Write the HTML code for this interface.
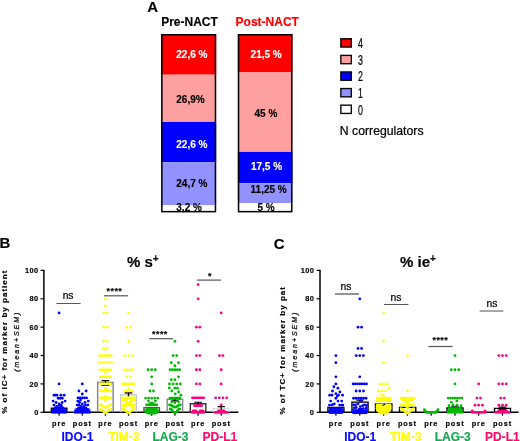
<!DOCTYPE html>
<html lang="en"><head><meta charset="utf-8"><title>Figure</title>
<style>
html,body{margin:0;padding:0;background:#fff;}
body{width:520px;height:441px;overflow:hidden;}
svg{display:block;font-family:"Liberation Sans", Arial, Helvetica, sans-serif;}
</style></head><body>
<svg width="520" height="441" viewBox="0 0 520 441">
<rect width="520" height="441" fill="#fff"/>
<text x="147.3" y="11.6" font-size="15" font-weight="bold" stroke="#000" stroke-width="0.16">A</text>
<text x="161.2" y="26.1" font-size="12" font-weight="bold" stroke="#000" stroke-width="0.16">Pre-NACT</text>
<text x="235.6" y="26.1" font-size="12" font-weight="bold" fill="#ff0000" stroke="#ff0000" stroke-width="0.16">Post-NACT</text>
<rect x="161.1" y="34" width="55.099999999999994" height="40.7" fill="#ff0000"/>
<rect x="161.1" y="74.7" width="55.099999999999994" height="47.2" fill="#ffa0a0"/>
<rect x="161.1" y="121.9" width="55.099999999999994" height="40.29999999999998" fill="#0000ff"/>
<rect x="161.1" y="162.2" width="55.099999999999994" height="43.10000000000002" fill="#9191ff"/>
<rect x="161.1" y="205.3" width="55.099999999999994" height="7.099999999999994" fill="#ffffff"/>
<text x="176.3" y="58" font-size="10" font-weight="bold" fill="#fff" stroke="#fff" stroke-width="0.16">22,6 %</text>
<text x="176.3" y="102.8" font-size="10" font-weight="bold" fill="#000" stroke="#000" stroke-width="0.16">26,9%</text>
<text x="176.3" y="147.8" font-size="10" font-weight="bold" fill="#fff" stroke="#fff" stroke-width="0.16">22,6 %</text>
<text x="176.3" y="187.1" font-size="10" font-weight="bold" fill="#000" stroke="#000" stroke-width="0.16">24,7 %</text>
<text x="176.3" y="210.6" font-size="10" font-weight="bold" fill="#000" stroke="#000" stroke-width="0.16">3,2 %</text>
<rect x="161.85" y="34.75" width="53.599999999999994" height="176.9" fill="none" stroke="#000" stroke-width="1.5"/>
<rect x="237.8" y="34" width="54.69999999999999" height="38.400000000000006" fill="#ff0000"/>
<rect x="237.8" y="72.4" width="54.69999999999999" height="79.5" fill="#ffa0a0"/>
<rect x="237.8" y="151.9" width="54.69999999999999" height="31.299999999999983" fill="#0000ff"/>
<rect x="237.8" y="183.2" width="54.69999999999999" height="19.900000000000006" fill="#9191ff"/>
<rect x="237.8" y="203.1" width="54.69999999999999" height="9.300000000000011" fill="#ffffff"/>
<text x="250.6" y="58" font-size="10" font-weight="bold" fill="#fff" stroke="#fff" stroke-width="0.16">21,5 %</text>
<text x="254.5" y="117" font-size="10" font-weight="bold" fill="#000" stroke="#000" stroke-width="0.16">45 %</text>
<text x="250.9" y="170" font-size="10" font-weight="bold" fill="#fff" stroke="#fff" stroke-width="0.16">17,5 %</text>
<text x="250.6" y="192.8" font-size="10" font-weight="bold" fill="#000" stroke="#000" stroke-width="0.16">11,25 %</text>
<text x="257.5" y="210.7" font-size="10" font-weight="bold" fill="#000" stroke="#000" stroke-width="0.16">5 %</text>
<rect x="238.55" y="34.75" width="53.19999999999999" height="176.9" fill="none" stroke="#000" stroke-width="1.5"/>
<rect x="340.85" y="38.75" width="10.5" height="8.3" fill="#ff0000" stroke="#000" stroke-width="1.35"/>
<text transform="translate(357.9,48.10) scale(0.63,1)" font-size="14" stroke="#000" stroke-width="0.22">4</text>
<rect x="340.85" y="55.40" width="10.5" height="8.3" fill="#ffa0a0" stroke="#000" stroke-width="1.35"/>
<text transform="translate(357.9,64.75) scale(0.63,1)" font-size="14" stroke="#000" stroke-width="0.22">3</text>
<rect x="340.85" y="71.95" width="10.5" height="8.3" fill="#0000ff" stroke="#000" stroke-width="1.35"/>
<text transform="translate(357.9,81.30) scale(0.63,1)" font-size="14" stroke="#000" stroke-width="0.22">2</text>
<rect x="340.85" y="88.55" width="10.5" height="8.3" fill="#9191ff" stroke="#000" stroke-width="1.35"/>
<text transform="translate(357.9,97.90) scale(0.63,1)" font-size="14" stroke="#000" stroke-width="0.22">1</text>
<rect x="340.85" y="105.15" width="10.5" height="8.3" fill="#ffffff" stroke="#000" stroke-width="1.35"/>
<text transform="translate(357.9,114.50) scale(0.63,1)" font-size="14" stroke="#000" stroke-width="0.22">0</text>
<text x="339.8" y="134.5" font-size="12.25" stroke="#000" stroke-width="0.22">N corregulators</text>
<text x="-0.6" y="248.2" font-size="15" font-weight="bold" stroke="#000" stroke-width="0.16">B</text>
<text x="126.9" y="266.5" font-size="15" font-weight="bold" stroke="#000" stroke-width="0.16">% s<tspan font-size="10" dy="-4.6">+</tspan></text>
<path d="M43.9 269.7V413.00" stroke="#000" stroke-width="1.5" fill="none"/>
<path d="M43.15 412.30H238.4" stroke="#000" stroke-width="1.4" fill="none"/>
<path d="M40.5 412.30H43.9" stroke="#000" stroke-width="1.2"/>
<text x="38.7" y="414.95" font-size="7.4" font-weight="bold" letter-spacing="0.45" text-anchor="end" stroke="#000" stroke-width="0.16">0</text>
<path d="M40.5 383.92H43.9" stroke="#000" stroke-width="1.2"/>
<text x="38.7" y="386.57" font-size="7.4" font-weight="bold" letter-spacing="0.45" text-anchor="end" stroke="#000" stroke-width="0.16">20</text>
<path d="M40.5 355.54H43.9" stroke="#000" stroke-width="1.2"/>
<text x="38.7" y="358.19" font-size="7.4" font-weight="bold" letter-spacing="0.45" text-anchor="end" stroke="#000" stroke-width="0.16">40</text>
<path d="M40.5 327.16H43.9" stroke="#000" stroke-width="1.2"/>
<text x="38.7" y="329.81" font-size="7.4" font-weight="bold" letter-spacing="0.45" text-anchor="end" stroke="#000" stroke-width="0.16">60</text>
<path d="M40.5 298.78H43.9" stroke="#000" stroke-width="1.2"/>
<text x="38.7" y="301.43" font-size="7.4" font-weight="bold" letter-spacing="0.45" text-anchor="end" stroke="#000" stroke-width="0.16">80</text>
<path d="M40.5 270.40H43.9" stroke="#000" stroke-width="1.2"/>
<text x="38.7" y="273.05" font-size="7.4" font-weight="bold" letter-spacing="0.45" text-anchor="end" stroke="#000" stroke-width="0.16">100</text>
<path d="M59.1 412.30V415.70" stroke="#000" stroke-width="1.2"/>
<text x="59.1" y="425.5" font-size="7.4" font-weight="bold" letter-spacing="0.85" text-anchor="middle" stroke="#000" stroke-width="0.16">pre</text>
<path d="M82.3 412.30V415.70" stroke="#000" stroke-width="1.2"/>
<text x="82.3" y="425.5" font-size="7.4" font-weight="bold" letter-spacing="0.85" text-anchor="middle" stroke="#000" stroke-width="0.16">post</text>
<path d="M105.4 412.30V415.70" stroke="#000" stroke-width="1.2"/>
<text x="105.4" y="425.5" font-size="7.4" font-weight="bold" letter-spacing="0.85" text-anchor="middle" stroke="#000" stroke-width="0.16">pre</text>
<path d="M128.5 412.30V415.70" stroke="#000" stroke-width="1.2"/>
<text x="128.5" y="425.5" font-size="7.4" font-weight="bold" letter-spacing="0.85" text-anchor="middle" stroke="#000" stroke-width="0.16">post</text>
<path d="M151.7 412.30V415.70" stroke="#000" stroke-width="1.2"/>
<text x="151.7" y="425.5" font-size="7.4" font-weight="bold" letter-spacing="0.85" text-anchor="middle" stroke="#000" stroke-width="0.16">pre</text>
<path d="M174.9 412.30V415.70" stroke="#000" stroke-width="1.2"/>
<text x="174.9" y="425.5" font-size="7.4" font-weight="bold" letter-spacing="0.85" text-anchor="middle" stroke="#000" stroke-width="0.16">post</text>
<path d="M198.1 412.30V415.70" stroke="#000" stroke-width="1.2"/>
<text x="198.1" y="425.5" font-size="7.4" font-weight="bold" letter-spacing="0.85" text-anchor="middle" stroke="#000" stroke-width="0.16">pre</text>
<path d="M221.2 412.30V415.70" stroke="#000" stroke-width="1.2"/>
<text x="221.2" y="425.5" font-size="7.4" font-weight="bold" letter-spacing="0.85" text-anchor="middle" stroke="#000" stroke-width="0.16">post</text>
<text transform="translate(7.2,341.7) rotate(-90)" font-size="8" font-weight="bold" letter-spacing="1.02" text-anchor="middle" stroke="#000" stroke-width="0.16">% of IC+ for marker by patient</text>
<text transform="translate(19.3,341.2) rotate(-90)" font-size="7" font-style="italic" letter-spacing="1.95" text-anchor="middle" stroke="#000" stroke-width="0.22">(mean+SEM)</text>
<path d="M51.35 412.30V408.18H66.85V412.30" fill="none" stroke="#000" stroke-width="1.4"/>
<path d="M74.55 412.30V408.61H90.05V412.30" fill="none" stroke="#c8c8c0" stroke-width="1.4"/>
<path d="M97.65 412.30V382.50H113.15V412.30" fill="none" stroke="#80808c" stroke-width="1.4"/>
<path d="M101.60000000000001 380.7H109.2M105.4 380.7V385.3M101.60000000000001 385.3H109.2" stroke="#000" stroke-width="1.2" fill="none"/>
<path d="M120.75 412.30V394.70H136.25V412.30" fill="none" stroke="#c8c8d6" stroke-width="1.4"/>
<path d="M124.7 392.9H132.3M128.5 392.9V396.4" stroke="#000" stroke-width="1.4" fill="none"/>
<path d="M143.95 412.30V407.76H159.45V412.30" fill="none" stroke="#555" stroke-width="1.4"/>
<path d="M167.15 412.30V399.25H182.65V412.30" fill="none" stroke="#85858f" stroke-width="1.4"/>
<path d="M171.3 397.5H178.5M174.9 397.5V400.9M171.3 400.9H178.5" stroke="#000" stroke-width="1.2" fill="none"/>
<path d="M190.35 412.30V403.79H205.85V412.30" fill="none" stroke="#333" stroke-width="1.4"/>
<path d="M194.2 402.25H202.0M198.1 402.25V405" stroke="#000" stroke-width="1.2" fill="none"/>
<path d="M213.45 412.30V408.75H228.95V412.30" fill="none" stroke="#dcdcdc" stroke-width="1.4"/>
<path d="M217.6 406.6H224.79999999999998M221.2 406.6V410" stroke="#000" stroke-width="1.2" fill="none"/>
<g fill="#0000ff"><circle cx="59.10" cy="312.97" r="1.4"/><circle cx="59.10" cy="383.92" r="1.4"/><circle cx="54.00" cy="395.13" r="1.4"/><circle cx="55.60" cy="395.13" r="1.4"/><circle cx="57.00" cy="395.13" r="1.4"/><circle cx="60.90" cy="395.13" r="1.4"/><circle cx="64.20" cy="395.13" r="1.4"/><circle cx="58.20" cy="398.25" r="1.4"/><circle cx="60.30" cy="398.25" r="1.4"/><circle cx="62.30" cy="398.25" r="1.4"/><circle cx="53.10" cy="401.09" r="1.4"/><circle cx="65.10" cy="401.09" r="1.4"/><circle cx="56.10" cy="402.51" r="1.4"/><circle cx="62.10" cy="402.51" r="1.4"/><circle cx="59.10" cy="403.93" r="1.4"/><circle cx="54.00" cy="405.06" r="1.4"/><circle cx="59.30" cy="405.35" r="1.4"/><circle cx="61.10" cy="405.06" r="1.4"/><circle cx="56.80" cy="406.34" r="1.4"/><circle cx="61.50" cy="406.62" r="1.4"/><circle cx="55.35" cy="407.90" r="1.4"/><circle cx="56.85" cy="407.90" r="1.4"/><circle cx="58.35" cy="407.90" r="1.4"/><circle cx="59.85" cy="407.90" r="1.4"/><circle cx="61.35" cy="407.90" r="1.4"/><circle cx="62.85" cy="407.90" r="1.4"/><circle cx="53.85" cy="409.46" r="1.4"/><circle cx="55.60" cy="409.46" r="1.4"/><circle cx="57.35" cy="409.46" r="1.4"/><circle cx="59.10" cy="409.46" r="1.4"/><circle cx="60.85" cy="409.46" r="1.4"/><circle cx="62.60" cy="409.46" r="1.4"/><circle cx="64.35" cy="409.46" r="1.4"/><circle cx="52.85" cy="410.88" r="1.4"/><circle cx="54.64" cy="410.88" r="1.4"/><circle cx="56.42" cy="410.88" r="1.4"/><circle cx="58.21" cy="410.88" r="1.4"/><circle cx="59.99" cy="410.88" r="1.4"/><circle cx="61.78" cy="410.88" r="1.4"/><circle cx="63.56" cy="410.88" r="1.4"/><circle cx="65.35" cy="410.88" r="1.4"/><circle cx="52.35" cy="412.30" r="1.4"/><circle cx="54.04" cy="412.30" r="1.4"/><circle cx="55.73" cy="412.30" r="1.4"/><circle cx="57.41" cy="412.30" r="1.4"/><circle cx="59.10" cy="412.30" r="1.4"/><circle cx="60.79" cy="412.30" r="1.4"/><circle cx="62.48" cy="412.30" r="1.4"/><circle cx="64.16" cy="412.30" r="1.4"/><circle cx="65.85" cy="412.30" r="1.4"/></g>
<g fill="#0000ff"><circle cx="82.30" cy="383.92" r="1.4"/><circle cx="78.90" cy="391.01" r="1.4"/><circle cx="86.10" cy="391.01" r="1.4"/><circle cx="82.30" cy="393.99" r="1.4"/><circle cx="78.00" cy="397.97" r="1.4"/><circle cx="80.15" cy="397.97" r="1.4"/><circle cx="82.30" cy="397.97" r="1.4"/><circle cx="84.45" cy="397.97" r="1.4"/><circle cx="86.60" cy="397.97" r="1.4"/><circle cx="80.50" cy="400.10" r="1.4"/><circle cx="88.30" cy="401.09" r="1.4"/><circle cx="77.70" cy="401.09" r="1.4"/><circle cx="79.50" cy="402.51" r="1.4"/><circle cx="85.10" cy="402.51" r="1.4"/><circle cx="82.30" cy="403.93" r="1.4"/><circle cx="77.20" cy="405.06" r="1.4"/><circle cx="79.10" cy="405.06" r="1.4"/><circle cx="85.50" cy="405.06" r="1.4"/><circle cx="87.80" cy="405.06" r="1.4"/><circle cx="80.90" cy="406.48" r="1.4"/><circle cx="83.70" cy="406.48" r="1.4"/><circle cx="78.55" cy="408.04" r="1.4"/><circle cx="80.05" cy="408.04" r="1.4"/><circle cx="81.55" cy="408.04" r="1.4"/><circle cx="83.05" cy="408.04" r="1.4"/><circle cx="84.55" cy="408.04" r="1.4"/><circle cx="86.05" cy="408.04" r="1.4"/><circle cx="76.80" cy="409.46" r="1.4"/><circle cx="78.63" cy="409.46" r="1.4"/><circle cx="80.47" cy="409.46" r="1.4"/><circle cx="82.30" cy="409.46" r="1.4"/><circle cx="84.13" cy="409.46" r="1.4"/><circle cx="85.97" cy="409.46" r="1.4"/><circle cx="87.80" cy="409.46" r="1.4"/><circle cx="75.55" cy="410.88" r="1.4"/><circle cx="77.48" cy="410.88" r="1.4"/><circle cx="79.41" cy="410.88" r="1.4"/><circle cx="81.34" cy="410.88" r="1.4"/><circle cx="83.26" cy="410.88" r="1.4"/><circle cx="85.19" cy="410.88" r="1.4"/><circle cx="87.12" cy="410.88" r="1.4"/><circle cx="89.05" cy="410.88" r="1.4"/><circle cx="75.05" cy="412.30" r="1.4"/><circle cx="76.86" cy="412.30" r="1.4"/><circle cx="78.67" cy="412.30" r="1.4"/><circle cx="80.49" cy="412.30" r="1.4"/><circle cx="82.30" cy="412.30" r="1.4"/><circle cx="84.11" cy="412.30" r="1.4"/><circle cx="85.92" cy="412.30" r="1.4"/><circle cx="87.74" cy="412.30" r="1.4"/><circle cx="89.55" cy="412.30" r="1.4"/></g>
<g fill="#ffff00"><circle cx="105.40" cy="298.78" r="1.3"/><circle cx="105.40" cy="305.88" r="1.3"/><circle cx="103.60" cy="312.97" r="1.3"/><circle cx="107.20" cy="312.97" r="1.3"/><circle cx="103.60" cy="327.16" r="1.3"/><circle cx="107.20" cy="327.16" r="1.3"/><circle cx="103.60" cy="341.35" r="1.3"/><circle cx="107.20" cy="341.35" r="1.3"/><circle cx="103.60" cy="348.44" r="1.3"/><circle cx="107.20" cy="348.44" r="1.3"/><circle cx="99.40" cy="355.54" r="1.3"/><circle cx="101.11" cy="355.54" r="1.3"/><circle cx="102.83" cy="355.54" r="1.3"/><circle cx="104.54" cy="355.54" r="1.3"/><circle cx="106.26" cy="355.54" r="1.3"/><circle cx="107.97" cy="355.54" r="1.3"/><circle cx="109.69" cy="355.54" r="1.3"/><circle cx="111.40" cy="355.54" r="1.3"/><circle cx="99.20" cy="362.63" r="1.3"/><circle cx="102.30" cy="362.63" r="1.3"/><circle cx="105.40" cy="362.63" r="1.3"/><circle cx="108.50" cy="362.63" r="1.3"/><circle cx="111.60" cy="362.63" r="1.3"/><circle cx="99.90" cy="369.73" r="1.3"/><circle cx="101.47" cy="369.73" r="1.3"/><circle cx="103.04" cy="369.73" r="1.3"/><circle cx="104.61" cy="369.73" r="1.3"/><circle cx="106.19" cy="369.73" r="1.3"/><circle cx="107.76" cy="369.73" r="1.3"/><circle cx="109.33" cy="369.73" r="1.3"/><circle cx="110.90" cy="369.73" r="1.3"/><circle cx="105.40" cy="372.99" r="1.3"/><circle cx="100.00" cy="376.82" r="1.3"/><circle cx="101.54" cy="376.82" r="1.3"/><circle cx="103.09" cy="376.82" r="1.3"/><circle cx="104.63" cy="376.82" r="1.3"/><circle cx="106.17" cy="376.82" r="1.3"/><circle cx="107.71" cy="376.82" r="1.3"/><circle cx="109.26" cy="376.82" r="1.3"/><circle cx="110.80" cy="376.82" r="1.3"/><circle cx="100.00" cy="383.92" r="1.3"/><circle cx="101.35" cy="383.92" r="1.3"/><circle cx="102.70" cy="383.92" r="1.3"/><circle cx="104.05" cy="383.92" r="1.3"/><circle cx="105.40" cy="383.92" r="1.3"/><circle cx="106.75" cy="383.92" r="1.3"/><circle cx="108.10" cy="383.92" r="1.3"/><circle cx="109.45" cy="383.92" r="1.3"/><circle cx="110.80" cy="383.92" r="1.3"/><circle cx="105.40" cy="388.18" r="1.3"/><circle cx="100.00" cy="391.01" r="1.3"/><circle cx="101.35" cy="391.01" r="1.3"/><circle cx="102.70" cy="391.01" r="1.3"/><circle cx="104.05" cy="391.01" r="1.3"/><circle cx="105.40" cy="391.01" r="1.3"/><circle cx="106.75" cy="391.01" r="1.3"/><circle cx="108.10" cy="391.01" r="1.3"/><circle cx="109.45" cy="391.01" r="1.3"/><circle cx="110.80" cy="391.01" r="1.3"/><circle cx="105.40" cy="395.98" r="1.3"/><circle cx="100.00" cy="397.83" r="1.3"/><circle cx="101.35" cy="397.83" r="1.3"/><circle cx="102.70" cy="397.83" r="1.3"/><circle cx="104.05" cy="397.83" r="1.3"/><circle cx="105.40" cy="397.83" r="1.3"/><circle cx="106.75" cy="397.83" r="1.3"/><circle cx="108.10" cy="397.83" r="1.3"/><circle cx="109.45" cy="397.83" r="1.3"/><circle cx="110.80" cy="397.83" r="1.3"/><circle cx="105.40" cy="400.95" r="1.3"/><circle cx="99.80" cy="404.64" r="1.3"/><circle cx="101.20" cy="405.03" r="1.3"/><circle cx="102.60" cy="405.99" r="1.3"/><circle cx="104.00" cy="406.94" r="1.3"/><circle cx="105.40" cy="407.33" r="1.3"/><circle cx="106.80" cy="406.94" r="1.3"/><circle cx="108.20" cy="405.99" r="1.3"/><circle cx="109.60" cy="405.03" r="1.3"/><circle cx="111.00" cy="404.64" r="1.3"/><circle cx="100.20" cy="408.89" r="1.3"/><circle cx="101.50" cy="409.92" r="1.3"/><circle cx="102.80" cy="410.95" r="1.3"/><circle cx="104.10" cy="411.98" r="1.3"/><circle cx="105.40" cy="413.01" r="1.3"/><circle cx="106.70" cy="411.98" r="1.3"/><circle cx="108.00" cy="410.95" r="1.3"/><circle cx="109.30" cy="409.92" r="1.3"/><circle cx="110.60" cy="408.89" r="1.3"/></g>
<g fill="#ffff00"><circle cx="128.50" cy="312.97" r="1.3"/><circle cx="126.70" cy="327.16" r="1.3"/><circle cx="130.30" cy="327.16" r="1.3"/><circle cx="128.50" cy="341.35" r="1.3"/><circle cx="124.90" cy="355.54" r="1.3"/><circle cx="128.50" cy="355.54" r="1.3"/><circle cx="132.10" cy="355.54" r="1.3"/><circle cx="124.70" cy="369.73" r="1.3"/><circle cx="127.23" cy="369.73" r="1.3"/><circle cx="129.77" cy="369.73" r="1.3"/><circle cx="132.30" cy="369.73" r="1.3"/><circle cx="126.70" cy="376.82" r="1.3"/><circle cx="130.30" cy="376.82" r="1.3"/><circle cx="122.50" cy="383.92" r="1.3"/><circle cx="124.21" cy="383.92" r="1.3"/><circle cx="125.93" cy="383.92" r="1.3"/><circle cx="127.64" cy="383.92" r="1.3"/><circle cx="129.36" cy="383.92" r="1.3"/><circle cx="131.07" cy="383.92" r="1.3"/><circle cx="132.79" cy="383.92" r="1.3"/><circle cx="134.50" cy="383.92" r="1.3"/><circle cx="128.50" cy="388.18" r="1.3"/><circle cx="124.50" cy="391.01" r="1.3"/><circle cx="127.17" cy="391.01" r="1.3"/><circle cx="129.83" cy="391.01" r="1.3"/><circle cx="132.50" cy="391.01" r="1.3"/><circle cx="122.70" cy="397.83" r="1.3"/><circle cx="124.15" cy="397.83" r="1.3"/><circle cx="125.60" cy="397.83" r="1.3"/><circle cx="127.05" cy="397.83" r="1.3"/><circle cx="128.50" cy="397.83" r="1.3"/><circle cx="129.95" cy="397.83" r="1.3"/><circle cx="131.40" cy="397.83" r="1.3"/><circle cx="132.85" cy="397.83" r="1.3"/><circle cx="134.30" cy="397.83" r="1.3"/><circle cx="123.10" cy="399.95" r="1.3"/><circle cx="124.45" cy="400.37" r="1.3"/><circle cx="125.80" cy="401.37" r="1.3"/><circle cx="127.15" cy="402.38" r="1.3"/><circle cx="128.50" cy="402.79" r="1.3"/><circle cx="129.85" cy="402.38" r="1.3"/><circle cx="131.20" cy="401.37" r="1.3"/><circle cx="132.55" cy="400.37" r="1.3"/><circle cx="133.90" cy="399.95" r="1.3"/><circle cx="123.10" cy="404.92" r="1.3"/><circle cx="124.45" cy="404.92" r="1.3"/><circle cx="125.80" cy="404.92" r="1.3"/><circle cx="127.15" cy="404.92" r="1.3"/><circle cx="128.50" cy="404.92" r="1.3"/><circle cx="129.85" cy="404.92" r="1.3"/><circle cx="131.20" cy="404.92" r="1.3"/><circle cx="132.55" cy="404.92" r="1.3"/><circle cx="133.90" cy="404.92" r="1.3"/><circle cx="123.60" cy="407.19" r="1.3"/><circle cx="125.23" cy="406.41" r="1.3"/><circle cx="126.87" cy="404.85" r="1.3"/><circle cx="128.50" cy="404.07" r="1.3"/><circle cx="130.13" cy="404.85" r="1.3"/><circle cx="131.77" cy="406.41" r="1.3"/><circle cx="133.40" cy="407.19" r="1.3"/><circle cx="123.30" cy="408.89" r="1.3"/><circle cx="124.60" cy="409.92" r="1.3"/><circle cx="125.90" cy="410.95" r="1.3"/><circle cx="127.20" cy="411.98" r="1.3"/><circle cx="128.50" cy="413.01" r="1.3"/><circle cx="129.80" cy="411.98" r="1.3"/><circle cx="131.10" cy="410.95" r="1.3"/><circle cx="132.40" cy="409.92" r="1.3"/><circle cx="133.70" cy="408.89" r="1.3"/></g>
<g fill="#00b900"><circle cx="148.10" cy="369.73" r="1.4"/><circle cx="151.70" cy="369.73" r="1.4"/><circle cx="155.30" cy="369.73" r="1.4"/><circle cx="151.70" cy="376.82" r="1.4"/><circle cx="151.70" cy="383.92" r="1.4"/><circle cx="149.90" cy="391.01" r="1.4"/><circle cx="153.50" cy="391.01" r="1.4"/><circle cx="145.60" cy="398.11" r="1.4"/><circle cx="148.65" cy="398.11" r="1.4"/><circle cx="151.70" cy="398.11" r="1.4"/><circle cx="154.75" cy="398.11" r="1.4"/><circle cx="157.80" cy="398.11" r="1.4"/><circle cx="148.50" cy="401.09" r="1.4"/><circle cx="155.40" cy="401.09" r="1.4"/><circle cx="146.60" cy="404.78" r="1.4"/><circle cx="147.88" cy="404.78" r="1.4"/><circle cx="149.15" cy="404.78" r="1.4"/><circle cx="150.42" cy="404.78" r="1.4"/><circle cx="151.70" cy="404.78" r="1.4"/><circle cx="152.97" cy="404.78" r="1.4"/><circle cx="154.25" cy="404.78" r="1.4"/><circle cx="155.52" cy="404.78" r="1.4"/><circle cx="156.80" cy="404.78" r="1.4"/><circle cx="151.70" cy="402.79" r="1.4"/><circle cx="150.20" cy="403.64" r="1.4"/><circle cx="153.20" cy="403.64" r="1.4"/><circle cx="147.45" cy="409.18" r="1.4"/><circle cx="148.87" cy="409.18" r="1.4"/><circle cx="150.28" cy="409.18" r="1.4"/><circle cx="151.70" cy="409.18" r="1.4"/><circle cx="153.12" cy="409.18" r="1.4"/><circle cx="154.53" cy="409.18" r="1.4"/><circle cx="155.95" cy="409.18" r="1.4"/><circle cx="146.20" cy="410.31" r="1.4"/><circle cx="147.77" cy="410.31" r="1.4"/><circle cx="149.34" cy="410.31" r="1.4"/><circle cx="150.91" cy="410.31" r="1.4"/><circle cx="152.49" cy="410.31" r="1.4"/><circle cx="154.06" cy="410.31" r="1.4"/><circle cx="155.63" cy="410.31" r="1.4"/><circle cx="157.20" cy="410.31" r="1.4"/><circle cx="145.70" cy="411.45" r="1.4"/><circle cx="147.20" cy="411.45" r="1.4"/><circle cx="148.70" cy="411.45" r="1.4"/><circle cx="150.20" cy="411.45" r="1.4"/><circle cx="151.70" cy="411.45" r="1.4"/><circle cx="153.20" cy="411.45" r="1.4"/><circle cx="154.70" cy="411.45" r="1.4"/><circle cx="156.20" cy="411.45" r="1.4"/><circle cx="157.70" cy="411.45" r="1.4"/><circle cx="146.40" cy="412.44" r="1.4"/><circle cx="147.72" cy="412.44" r="1.4"/><circle cx="149.05" cy="412.44" r="1.4"/><circle cx="150.38" cy="412.44" r="1.4"/><circle cx="151.70" cy="412.44" r="1.4"/><circle cx="153.02" cy="412.44" r="1.4"/><circle cx="154.35" cy="412.44" r="1.4"/><circle cx="155.67" cy="412.44" r="1.4"/><circle cx="157.00" cy="412.44" r="1.4"/><circle cx="148.45" cy="413.15" r="1.4"/><circle cx="150.07" cy="413.15" r="1.4"/><circle cx="151.70" cy="413.15" r="1.4"/><circle cx="153.32" cy="413.15" r="1.4"/><circle cx="154.95" cy="413.15" r="1.4"/></g>
<g fill="#00b900"><circle cx="174.90" cy="341.35" r="1.4"/><circle cx="173.10" cy="355.54" r="1.4"/><circle cx="176.70" cy="355.54" r="1.4"/><circle cx="171.30" cy="362.63" r="1.4"/><circle cx="178.50" cy="362.63" r="1.4"/><circle cx="174.90" cy="365.76" r="1.4"/><circle cx="170.15" cy="369.73" r="1.4"/><circle cx="172.53" cy="369.73" r="1.4"/><circle cx="174.90" cy="369.73" r="1.4"/><circle cx="177.28" cy="369.73" r="1.4"/><circle cx="179.65" cy="369.73" r="1.4"/><circle cx="178.50" cy="376.82" r="1.4"/><circle cx="171.30" cy="379.66" r="1.4"/><circle cx="174.90" cy="379.66" r="1.4"/><circle cx="169.50" cy="383.92" r="1.4"/><circle cx="173.10" cy="383.92" r="1.4"/><circle cx="176.70" cy="383.92" r="1.4"/><circle cx="180.30" cy="383.92" r="1.4"/><circle cx="169.30" cy="387.89" r="1.4"/><circle cx="174.90" cy="388.18" r="1.4"/><circle cx="177.50" cy="388.18" r="1.4"/><circle cx="171.70" cy="391.01" r="1.4"/><circle cx="178.60" cy="392.01" r="1.4"/><circle cx="175.20" cy="393.85" r="1.4"/><circle cx="180.90" cy="395.13" r="1.4"/><circle cx="169.95" cy="398.11" r="1.4"/><circle cx="171.19" cy="398.11" r="1.4"/><circle cx="172.43" cy="398.11" r="1.4"/><circle cx="173.66" cy="398.11" r="1.4"/><circle cx="174.90" cy="398.11" r="1.4"/><circle cx="176.14" cy="398.11" r="1.4"/><circle cx="177.38" cy="398.11" r="1.4"/><circle cx="178.61" cy="398.11" r="1.4"/><circle cx="179.85" cy="398.11" r="1.4"/><circle cx="171.70" cy="401.80" r="1.4"/><circle cx="174.90" cy="402.51" r="1.4"/><circle cx="178.60" cy="401.80" r="1.4"/><circle cx="169.50" cy="404.78" r="1.4"/><circle cx="170.85" cy="405.13" r="1.4"/><circle cx="172.20" cy="405.99" r="1.4"/><circle cx="173.55" cy="406.84" r="1.4"/><circle cx="174.90" cy="407.19" r="1.4"/><circle cx="176.25" cy="406.84" r="1.4"/><circle cx="177.60" cy="405.99" r="1.4"/><circle cx="178.95" cy="405.13" r="1.4"/><circle cx="180.30" cy="404.78" r="1.4"/><circle cx="170.20" cy="408.89" r="1.4"/><circle cx="171.38" cy="409.46" r="1.4"/><circle cx="172.55" cy="410.81" r="1.4"/><circle cx="173.72" cy="412.16" r="1.4"/><circle cx="174.90" cy="412.73" r="1.4"/><circle cx="176.08" cy="412.16" r="1.4"/><circle cx="177.25" cy="410.81" r="1.4"/><circle cx="178.43" cy="409.46" r="1.4"/><circle cx="179.60" cy="408.89" r="1.4"/></g>
<g fill="#ff007f"><circle cx="198.10" cy="284.59" r="1.4"/><circle cx="198.10" cy="298.78" r="1.4"/><circle cx="196.35" cy="327.16" r="1.4"/><circle cx="199.85" cy="327.16" r="1.4"/><circle cx="198.10" cy="341.35" r="1.4"/><circle cx="196.35" cy="355.54" r="1.4"/><circle cx="199.85" cy="355.54" r="1.4"/><circle cx="196.35" cy="369.73" r="1.4"/><circle cx="199.85" cy="369.73" r="1.4"/><circle cx="196.35" cy="383.92" r="1.4"/><circle cx="199.85" cy="383.92" r="1.4"/><circle cx="192.50" cy="397.83" r="1.4"/><circle cx="194.10" cy="397.83" r="1.4"/><circle cx="195.70" cy="397.83" r="1.4"/><circle cx="197.30" cy="397.83" r="1.4"/><circle cx="198.90" cy="397.83" r="1.4"/><circle cx="200.50" cy="397.83" r="1.4"/><circle cx="202.10" cy="397.83" r="1.4"/><circle cx="203.70" cy="397.83" r="1.4"/><circle cx="194.55" cy="405.63" r="1.4"/><circle cx="195.97" cy="405.63" r="1.4"/><circle cx="197.39" cy="405.63" r="1.4"/><circle cx="198.81" cy="405.63" r="1.4"/><circle cx="200.23" cy="405.63" r="1.4"/><circle cx="201.65" cy="405.63" r="1.4"/><circle cx="193.30" cy="410.88" r="1.4"/><circle cx="194.70" cy="410.88" r="1.4"/><circle cx="196.10" cy="410.88" r="1.4"/><circle cx="200.10" cy="410.88" r="1.4"/><circle cx="201.50" cy="410.88" r="1.4"/><circle cx="202.90" cy="410.88" r="1.4"/><circle cx="192.00" cy="412.30" r="1.4"/><circle cx="193.36" cy="412.30" r="1.4"/><circle cx="194.71" cy="412.30" r="1.4"/><circle cx="196.07" cy="412.30" r="1.4"/><circle cx="197.42" cy="412.30" r="1.4"/><circle cx="198.78" cy="412.30" r="1.4"/><circle cx="200.13" cy="412.30" r="1.4"/><circle cx="201.49" cy="412.30" r="1.4"/><circle cx="202.84" cy="412.30" r="1.4"/><circle cx="204.20" cy="412.30" r="1.4"/></g>
<g fill="#ff007f"><circle cx="221.20" cy="312.97" r="1.4"/><circle cx="219.45" cy="355.54" r="1.4"/><circle cx="222.95" cy="355.54" r="1.4"/><circle cx="221.20" cy="369.73" r="1.4"/><circle cx="221.20" cy="383.92" r="1.4"/><circle cx="221.20" cy="404.78" r="1.4"/><circle cx="215.65" cy="397.83" r="1.4"/><circle cx="219.35" cy="397.83" r="1.4"/><circle cx="223.05" cy="397.83" r="1.4"/><circle cx="226.75" cy="397.83" r="1.4"/><circle cx="218.45" cy="411.02" r="1.4"/><circle cx="219.82" cy="411.02" r="1.4"/><circle cx="221.20" cy="411.02" r="1.4"/><circle cx="222.57" cy="411.02" r="1.4"/><circle cx="223.95" cy="411.02" r="1.4"/><circle cx="215.10" cy="412.30" r="1.4"/><circle cx="216.46" cy="412.30" r="1.4"/><circle cx="217.81" cy="412.30" r="1.4"/><circle cx="219.17" cy="412.30" r="1.4"/><circle cx="220.52" cy="412.30" r="1.4"/><circle cx="221.88" cy="412.30" r="1.4"/><circle cx="223.23" cy="412.30" r="1.4"/><circle cx="224.59" cy="412.30" r="1.4"/><circle cx="225.94" cy="412.30" r="1.4"/><circle cx="227.30" cy="412.30" r="1.4"/></g>
<path d="M56.4 303.5H80.6" stroke="#444" stroke-width="0.9"/>
<text x="68.1" y="299.1" font-size="10.3" text-anchor="middle" stroke="#000" stroke-width="0.22">ns</text>
<path d="M104.0 295.8H128.1" stroke="#555" stroke-width="1.2"/>
<text x="114.4" y="294.3" font-size="8.9" font-weight="bold" stroke="#000" stroke-width="0.18" letter-spacing="0.45" text-anchor="middle">****</text>
<path d="M149.2 338.7H173.1" stroke="#555" stroke-width="1.2"/>
<text x="159.9" y="337.3" font-size="8.9" font-weight="bold" stroke="#000" stroke-width="0.18" letter-spacing="0.45" text-anchor="middle">****</text>
<path d="M196.9 280.1H221.0" stroke="#555" stroke-width="1.2"/>
<text x="209.9" y="278.7" font-size="8.9" font-weight="bold" stroke="#000" stroke-width="0.18" letter-spacing="0.45" text-anchor="middle">*</text>
<text x="61.5" y="441" font-size="12" font-weight="bold" fill="#0a0aff" stroke="#0a0aff" stroke-width="0.16">IDO-1</text>
<text x="108.2" y="441" font-size="12" font-weight="bold" fill="#ffff00" stroke="#ffff00" stroke-width="0.16">TIM-3</text>
<text x="152.4" y="441" font-size="12" font-weight="bold" fill="#12ab50" stroke="#12ab50" stroke-width="0.16">LAG-3</text>
<text x="202.5" y="441" font-size="12" font-weight="bold" fill="#ff0a6c" stroke="#ff0a6c" stroke-width="0.16">PD-L1</text>
<text x="273.8" y="249.3" font-size="15" font-weight="bold" stroke="#000" stroke-width="0.16">C</text>
<text x="400.0" y="266.5" font-size="15" font-weight="bold" stroke="#000" stroke-width="0.16">% ie<tspan font-size="10" dy="-4.6">+</tspan></text>
<path d="M320.0 269.7V413.00" stroke="#000" stroke-width="1.5" fill="none"/>
<path d="M319.25 412.30H518.6" stroke="#000" stroke-width="1.4" fill="none"/>
<path d="M316.6 412.30H320.0" stroke="#000" stroke-width="1.2"/>
<text x="314.4" y="414.95" font-size="7.4" font-weight="bold" letter-spacing="0.45" text-anchor="end" stroke="#000" stroke-width="0.16">0</text>
<path d="M316.6 383.92H320.0" stroke="#000" stroke-width="1.2"/>
<text x="314.4" y="386.57" font-size="7.4" font-weight="bold" letter-spacing="0.45" text-anchor="end" stroke="#000" stroke-width="0.16">20</text>
<path d="M316.6 355.54H320.0" stroke="#000" stroke-width="1.2"/>
<text x="314.4" y="358.19" font-size="7.4" font-weight="bold" letter-spacing="0.45" text-anchor="end" stroke="#000" stroke-width="0.16">40</text>
<path d="M316.6 327.16H320.0" stroke="#000" stroke-width="1.2"/>
<text x="314.4" y="329.81" font-size="7.4" font-weight="bold" letter-spacing="0.45" text-anchor="end" stroke="#000" stroke-width="0.16">60</text>
<path d="M316.6 298.78H320.0" stroke="#000" stroke-width="1.2"/>
<text x="314.4" y="301.43" font-size="7.4" font-weight="bold" letter-spacing="0.45" text-anchor="end" stroke="#000" stroke-width="0.16">80</text>
<path d="M316.6 270.40H320.0" stroke="#000" stroke-width="1.2"/>
<text x="314.4" y="273.05" font-size="7.4" font-weight="bold" letter-spacing="0.45" text-anchor="end" stroke="#000" stroke-width="0.16">100</text>
<path d="M335.9 412.30V415.70" stroke="#000" stroke-width="1.2"/>
<text x="335.9" y="425.5" font-size="7.4" font-weight="bold" letter-spacing="0.85" text-anchor="middle" stroke="#000" stroke-width="0.16">pre</text>
<path d="M359.8 412.30V415.70" stroke="#000" stroke-width="1.2"/>
<text x="359.8" y="425.5" font-size="7.4" font-weight="bold" letter-spacing="0.85" text-anchor="middle" stroke="#000" stroke-width="0.16">post</text>
<path d="M383.6 412.30V415.70" stroke="#000" stroke-width="1.2"/>
<text x="383.6" y="425.5" font-size="7.4" font-weight="bold" letter-spacing="0.85" text-anchor="middle" stroke="#000" stroke-width="0.16">pre</text>
<path d="M407.4 412.30V415.70" stroke="#000" stroke-width="1.2"/>
<text x="407.4" y="425.5" font-size="7.4" font-weight="bold" letter-spacing="0.85" text-anchor="middle" stroke="#000" stroke-width="0.16">post</text>
<path d="M431.2 412.30V415.70" stroke="#000" stroke-width="1.2"/>
<text x="431.2" y="425.5" font-size="7.4" font-weight="bold" letter-spacing="0.85" text-anchor="middle" stroke="#000" stroke-width="0.16">pre</text>
<path d="M455.0 412.30V415.70" stroke="#000" stroke-width="1.2"/>
<text x="455.0" y="425.5" font-size="7.4" font-weight="bold" letter-spacing="0.85" text-anchor="middle" stroke="#000" stroke-width="0.16">post</text>
<path d="M478.7 412.30V415.70" stroke="#000" stroke-width="1.2"/>
<text x="478.7" y="425.5" font-size="7.4" font-weight="bold" letter-spacing="0.85" text-anchor="middle" stroke="#000" stroke-width="0.16">pre</text>
<path d="M502.5 412.30V415.70" stroke="#000" stroke-width="1.2"/>
<text x="502.5" y="425.5" font-size="7.4" font-weight="bold" letter-spacing="0.85" text-anchor="middle" stroke="#000" stroke-width="0.16">post</text>
<text transform="translate(285.2,350.3) rotate(-90)" font-size="8" font-weight="bold" letter-spacing="1.02" text-anchor="middle" stroke="#000" stroke-width="0.16">% of TC+ for marker by pat</text>
<text transform="translate(297.0,341.2) rotate(-90)" font-size="7" font-style="italic" letter-spacing="1.95" text-anchor="middle" stroke="#000" stroke-width="0.22">(mean+SEM)</text>
<path d="M327.90 412.30V407.48H343.90V412.30" fill="none" stroke="#000" stroke-width="1.4"/>
<path d="M351.95 412.30V402.08H368.05V412.30" fill="none" stroke="#000" stroke-width="1.4"/>
<path d="M356.2 400.2H363.40000000000003M359.8 400.2V402" stroke="#000" stroke-width="1.2" fill="none"/>
<path d="M375.50 412.30V404.07H391.90V412.30" fill="none" stroke="#000" stroke-width="1.4"/>
<path d="M399.55 412.30V407.33H415.75V412.30" fill="none" stroke="#000" stroke-width="1.4"/>
<path d="M447.00 412.30V407.90H463.00V412.30" fill="none" stroke="#000" stroke-width="1.4"/>
<path d="M451.20 406.77H458.80M455.00 406.77V409.04M451.20 409.04H458.80" fill="none" stroke="#000" stroke-width="1.2"/>
<path d="M494.50 412.30V408.33H510.50V412.30" fill="none" stroke="#000" stroke-width="1.4"/>
<path d="M498.70 407.05H506.30M502.50 407.05V409.60M498.70 409.60H506.30" fill="none" stroke="#000" stroke-width="1.2"/>
<g fill="#0000ff"><circle cx="335.90" cy="355.54" r="1.4"/><circle cx="335.90" cy="362.63" r="1.4"/><circle cx="335.90" cy="376.82" r="1.4"/><circle cx="335.90" cy="383.92" r="1.4"/><circle cx="333.90" cy="386.76" r="1.4"/><circle cx="337.90" cy="388.18" r="1.4"/><circle cx="332.50" cy="391.01" r="1.4"/><circle cx="339.90" cy="392.01" r="1.4"/><circle cx="335.90" cy="393.71" r="1.4"/><circle cx="329.70" cy="395.13" r="1.4"/><circle cx="332.00" cy="395.13" r="1.4"/><circle cx="338.50" cy="395.13" r="1.4"/><circle cx="342.60" cy="395.13" r="1.4"/><circle cx="337.30" cy="396.12" r="1.4"/><circle cx="335.90" cy="398.25" r="1.4"/><circle cx="330.60" cy="401.09" r="1.4"/><circle cx="338.00" cy="401.09" r="1.4"/><circle cx="341.70" cy="401.09" r="1.4"/><circle cx="334.30" cy="403.79" r="1.4"/><circle cx="329.40" cy="405.06" r="1.4"/><circle cx="331.70" cy="405.06" r="1.4"/><circle cx="339.60" cy="405.06" r="1.4"/><circle cx="341.50" cy="405.06" r="1.4"/><circle cx="342.90" cy="405.06" r="1.4"/><circle cx="333.10" cy="404.35" r="1.4"/><circle cx="330.65" cy="408.47" r="1.4"/><circle cx="332.40" cy="408.47" r="1.4"/><circle cx="334.15" cy="408.47" r="1.4"/><circle cx="335.90" cy="408.47" r="1.4"/><circle cx="337.65" cy="408.47" r="1.4"/><circle cx="339.40" cy="408.47" r="1.4"/><circle cx="341.15" cy="408.47" r="1.4"/><circle cx="329.90" cy="409.89" r="1.4"/><circle cx="331.61" cy="409.89" r="1.4"/><circle cx="333.33" cy="409.89" r="1.4"/><circle cx="335.04" cy="409.89" r="1.4"/><circle cx="336.76" cy="409.89" r="1.4"/><circle cx="338.47" cy="409.89" r="1.4"/><circle cx="340.19" cy="409.89" r="1.4"/><circle cx="341.90" cy="409.89" r="1.4"/><circle cx="329.60" cy="411.31" r="1.4"/><circle cx="331.17" cy="411.31" r="1.4"/><circle cx="332.75" cy="411.31" r="1.4"/><circle cx="334.32" cy="411.31" r="1.4"/><circle cx="335.90" cy="411.31" r="1.4"/><circle cx="337.47" cy="411.31" r="1.4"/><circle cx="339.05" cy="411.31" r="1.4"/><circle cx="340.62" cy="411.31" r="1.4"/><circle cx="342.20" cy="411.31" r="1.4"/><circle cx="329.90" cy="412.58" r="1.4"/><circle cx="331.40" cy="412.58" r="1.4"/><circle cx="332.90" cy="412.58" r="1.4"/><circle cx="334.40" cy="412.58" r="1.4"/><circle cx="335.90" cy="412.58" r="1.4"/><circle cx="337.40" cy="412.58" r="1.4"/><circle cx="338.90" cy="412.58" r="1.4"/><circle cx="340.40" cy="412.58" r="1.4"/><circle cx="341.90" cy="412.58" r="1.4"/></g>
<g fill="#0000ff"><circle cx="359.80" cy="298.78" r="1.4"/><circle cx="358.00" cy="327.16" r="1.4"/><circle cx="361.60" cy="327.16" r="1.4"/><circle cx="358.00" cy="348.44" r="1.4"/><circle cx="361.60" cy="348.44" r="1.4"/><circle cx="356.20" cy="355.54" r="1.4"/><circle cx="359.80" cy="355.54" r="1.4"/><circle cx="363.40" cy="355.54" r="1.4"/><circle cx="359.80" cy="376.82" r="1.4"/><circle cx="353.10" cy="383.92" r="1.4"/><circle cx="355.33" cy="383.92" r="1.4"/><circle cx="357.57" cy="383.92" r="1.4"/><circle cx="359.80" cy="383.92" r="1.4"/><circle cx="362.03" cy="383.92" r="1.4"/><circle cx="364.27" cy="383.92" r="1.4"/><circle cx="366.50" cy="383.92" r="1.4"/><circle cx="356.10" cy="391.01" r="1.4"/><circle cx="359.80" cy="391.01" r="1.4"/><circle cx="363.50" cy="391.01" r="1.4"/><circle cx="353.55" cy="398.25" r="1.4"/><circle cx="356.05" cy="398.25" r="1.4"/><circle cx="358.55" cy="398.25" r="1.4"/><circle cx="361.05" cy="398.25" r="1.4"/><circle cx="363.55" cy="398.25" r="1.4"/><circle cx="366.05" cy="398.25" r="1.4"/><circle cx="361.50" cy="400.95" r="1.4"/><circle cx="353.80" cy="404.78" r="1.4"/><circle cx="355.60" cy="404.78" r="1.4"/><circle cx="358.00" cy="403.79" r="1.4"/><circle cx="362.60" cy="405.77" r="1.4"/><circle cx="364.40" cy="404.78" r="1.4"/><circle cx="366.40" cy="405.35" r="1.4"/><circle cx="354.30" cy="407.90" r="1.4"/><circle cx="356.20" cy="407.48" r="1.4"/><circle cx="360.30" cy="406.62" r="1.4"/><circle cx="366.20" cy="407.90" r="1.4"/><circle cx="359.30" cy="409.18" r="1.4"/><circle cx="361.30" cy="409.18" r="1.4"/><circle cx="363.40" cy="408.61" r="1.4"/><circle cx="353.30" cy="410.46" r="1.4"/><circle cx="355.90" cy="410.46" r="1.4"/><circle cx="358.50" cy="410.46" r="1.4"/><circle cx="361.10" cy="410.46" r="1.4"/><circle cx="363.70" cy="410.46" r="1.4"/><circle cx="366.30" cy="410.46" r="1.4"/><circle cx="353.00" cy="411.59" r="1.4"/><circle cx="354.70" cy="411.59" r="1.4"/><circle cx="356.40" cy="411.59" r="1.4"/><circle cx="358.10" cy="411.59" r="1.4"/><circle cx="359.80" cy="411.59" r="1.4"/><circle cx="361.50" cy="411.59" r="1.4"/><circle cx="363.20" cy="411.59" r="1.4"/><circle cx="364.90" cy="411.59" r="1.4"/><circle cx="366.60" cy="411.59" r="1.4"/><circle cx="353.50" cy="412.73" r="1.4"/><circle cx="355.07" cy="412.73" r="1.4"/><circle cx="356.65" cy="412.73" r="1.4"/><circle cx="358.23" cy="412.73" r="1.4"/><circle cx="359.80" cy="412.73" r="1.4"/><circle cx="361.38" cy="412.73" r="1.4"/><circle cx="362.95" cy="412.73" r="1.4"/><circle cx="364.53" cy="412.73" r="1.4"/><circle cx="366.10" cy="412.73" r="1.4"/></g>
<g fill="#ffff00"><circle cx="383.60" cy="312.97" r="1.3"/><circle cx="383.60" cy="341.35" r="1.3"/><circle cx="383.60" cy="362.63" r="1.3"/><circle cx="380.00" cy="383.92" r="1.3"/><circle cx="383.60" cy="383.92" r="1.3"/><circle cx="387.20" cy="383.92" r="1.3"/><circle cx="389.00" cy="388.18" r="1.3"/><circle cx="378.10" cy="391.01" r="1.3"/><circle cx="381.80" cy="391.01" r="1.3"/><circle cx="385.40" cy="391.01" r="1.3"/><circle cx="381.30" cy="394.56" r="1.3"/><circle cx="377.10" cy="398.11" r="1.3"/><circle cx="378.73" cy="398.11" r="1.3"/><circle cx="380.35" cy="398.11" r="1.3"/><circle cx="381.98" cy="398.11" r="1.3"/><circle cx="383.60" cy="398.11" r="1.3"/><circle cx="385.23" cy="398.11" r="1.3"/><circle cx="386.85" cy="398.11" r="1.3"/><circle cx="388.48" cy="398.11" r="1.3"/><circle cx="390.10" cy="398.11" r="1.3"/><circle cx="377.10" cy="400.66" r="1.3"/><circle cx="378.73" cy="400.66" r="1.3"/><circle cx="380.35" cy="400.66" r="1.3"/><circle cx="381.98" cy="400.66" r="1.3"/><circle cx="383.60" cy="400.66" r="1.3"/><circle cx="385.23" cy="400.66" r="1.3"/><circle cx="386.85" cy="400.66" r="1.3"/><circle cx="388.48" cy="400.66" r="1.3"/><circle cx="390.10" cy="400.66" r="1.3"/><circle cx="383.60" cy="395.84" r="1.3"/><circle cx="383.00" cy="399.39" r="1.3"/><circle cx="377.10" cy="404.78" r="1.3"/><circle cx="378.73" cy="404.78" r="1.3"/><circle cx="380.35" cy="404.78" r="1.3"/><circle cx="381.98" cy="404.78" r="1.3"/><circle cx="383.60" cy="404.78" r="1.3"/><circle cx="385.23" cy="404.78" r="1.3"/><circle cx="386.85" cy="404.78" r="1.3"/><circle cx="388.48" cy="404.78" r="1.3"/><circle cx="390.10" cy="404.78" r="1.3"/><circle cx="376.90" cy="406.48" r="1.3"/><circle cx="378.50" cy="406.48" r="1.3"/><circle cx="380.10" cy="406.48" r="1.3"/><circle cx="381.70" cy="406.48" r="1.3"/><circle cx="385.50" cy="406.48" r="1.3"/><circle cx="387.10" cy="406.48" r="1.3"/><circle cx="388.70" cy="406.48" r="1.3"/><circle cx="390.30" cy="406.48" r="1.3"/><circle cx="382.80" cy="406.20" r="1.3"/><circle cx="377.00" cy="408.18" r="1.3"/><circle cx="378.60" cy="408.18" r="1.3"/><circle cx="380.20" cy="408.18" r="1.3"/><circle cx="387.00" cy="408.18" r="1.3"/><circle cx="388.60" cy="408.18" r="1.3"/><circle cx="390.20" cy="408.18" r="1.3"/><circle cx="382.00" cy="408.18" r="1.3"/><circle cx="383.60" cy="408.18" r="1.3"/><circle cx="385.20" cy="408.18" r="1.3"/><circle cx="377.75" cy="409.89" r="1.3"/><circle cx="379.25" cy="409.89" r="1.3"/><circle cx="380.75" cy="409.89" r="1.3"/><circle cx="382.25" cy="409.89" r="1.3"/><circle cx="384.95" cy="409.89" r="1.3"/><circle cx="386.45" cy="409.89" r="1.3"/><circle cx="387.95" cy="409.89" r="1.3"/><circle cx="389.45" cy="409.89" r="1.3"/><circle cx="378.85" cy="411.59" r="1.3"/><circle cx="380.21" cy="411.59" r="1.3"/><circle cx="381.56" cy="411.59" r="1.3"/><circle cx="382.92" cy="411.59" r="1.3"/><circle cx="384.28" cy="411.59" r="1.3"/><circle cx="385.64" cy="411.59" r="1.3"/><circle cx="386.99" cy="411.59" r="1.3"/><circle cx="388.35" cy="411.59" r="1.3"/><circle cx="381.35" cy="413.15" r="1.3"/><circle cx="382.85" cy="413.15" r="1.3"/><circle cx="384.35" cy="413.15" r="1.3"/><circle cx="385.85" cy="413.15" r="1.3"/></g>
<g fill="#ffff00"><circle cx="407.40" cy="355.54" r="1.3"/><circle cx="407.40" cy="391.01" r="1.3"/><circle cx="400.70" cy="398.11" r="1.3"/><circle cx="402.38" cy="398.11" r="1.3"/><circle cx="404.05" cy="398.11" r="1.3"/><circle cx="405.72" cy="398.11" r="1.3"/><circle cx="407.40" cy="398.11" r="1.3"/><circle cx="409.07" cy="398.11" r="1.3"/><circle cx="410.75" cy="398.11" r="1.3"/><circle cx="412.42" cy="398.11" r="1.3"/><circle cx="414.10" cy="398.11" r="1.3"/><circle cx="402.40" cy="399.81" r="1.3"/><circle cx="404.07" cy="400.34" r="1.3"/><circle cx="405.73" cy="401.41" r="1.3"/><circle cx="407.40" cy="401.94" r="1.3"/><circle cx="409.07" cy="401.41" r="1.3"/><circle cx="410.73" cy="400.34" r="1.3"/><circle cx="412.40" cy="399.81" r="1.3"/><circle cx="400.95" cy="404.78" r="1.3"/><circle cx="402.65" cy="404.78" r="1.3"/><circle cx="404.35" cy="404.78" r="1.3"/><circle cx="406.05" cy="404.78" r="1.3"/><circle cx="408.75" cy="404.78" r="1.3"/><circle cx="410.45" cy="404.78" r="1.3"/><circle cx="412.15" cy="404.78" r="1.3"/><circle cx="413.85" cy="404.78" r="1.3"/><circle cx="405.80" cy="406.20" r="1.3"/><circle cx="409.00" cy="406.20" r="1.3"/><circle cx="407.40" cy="407.76" r="1.3"/><circle cx="407.40" cy="409.18" r="1.3"/><circle cx="401.10" cy="408.61" r="1.3"/><circle cx="402.67" cy="409.23" r="1.3"/><circle cx="404.25" cy="410.74" r="1.3"/><circle cx="405.82" cy="412.24" r="1.3"/><circle cx="407.40" cy="412.87" r="1.3"/><circle cx="408.97" cy="412.24" r="1.3"/><circle cx="410.55" cy="410.74" r="1.3"/><circle cx="412.12" cy="409.23" r="1.3"/><circle cx="413.70" cy="408.61" r="1.3"/><circle cx="402.65" cy="409.60" r="1.3"/><circle cx="404.23" cy="410.53" r="1.3"/><circle cx="405.82" cy="412.37" r="1.3"/><circle cx="407.40" cy="413.29" r="1.3"/><circle cx="408.98" cy="412.37" r="1.3"/><circle cx="410.57" cy="410.53" r="1.3"/><circle cx="412.15" cy="409.60" r="1.3"/></g>
<g fill="#00b900"><circle cx="426.20" cy="412.30" r="1.4"/><circle cx="427.45" cy="412.30" r="1.4"/><circle cx="428.70" cy="412.30" r="1.4"/><circle cx="429.95" cy="412.30" r="1.4"/><circle cx="431.20" cy="412.30" r="1.4"/><circle cx="432.45" cy="412.30" r="1.4"/><circle cx="433.70" cy="412.30" r="1.4"/><circle cx="434.95" cy="412.30" r="1.4"/><circle cx="436.20" cy="412.30" r="1.4"/><circle cx="424.40" cy="409.75" r="1.4"/><circle cx="438.00" cy="409.75" r="1.4"/><circle cx="425.40" cy="411.16" r="1.4"/><circle cx="437.00" cy="411.16" r="1.4"/></g>
<g fill="#00b900"><circle cx="455.00" cy="355.54" r="1.4"/><circle cx="451.30" cy="369.73" r="1.4"/><circle cx="455.00" cy="369.73" r="1.4"/><circle cx="458.70" cy="369.73" r="1.4"/><circle cx="455.00" cy="383.92" r="1.4"/><circle cx="448.10" cy="398.11" r="1.4"/><circle cx="450.40" cy="398.11" r="1.4"/><circle cx="452.70" cy="398.11" r="1.4"/><circle cx="455.00" cy="398.11" r="1.4"/><circle cx="457.30" cy="398.11" r="1.4"/><circle cx="459.60" cy="398.11" r="1.4"/><circle cx="461.90" cy="398.11" r="1.4"/><circle cx="451.40" cy="402.37" r="1.4"/><circle cx="456.80" cy="400.95" r="1.4"/><circle cx="449.00" cy="405.77" r="1.4"/><circle cx="453.00" cy="405.20" r="1.4"/><circle cx="457.00" cy="405.20" r="1.4"/><circle cx="461.00" cy="405.77" r="1.4"/><circle cx="449.50" cy="408.61" r="1.4"/><circle cx="451.33" cy="408.61" r="1.4"/><circle cx="453.17" cy="408.61" r="1.4"/><circle cx="455.00" cy="408.61" r="1.4"/><circle cx="456.83" cy="408.61" r="1.4"/><circle cx="458.67" cy="408.61" r="1.4"/><circle cx="460.50" cy="408.61" r="1.4"/><circle cx="448.50" cy="410.60" r="1.4"/><circle cx="450.36" cy="410.60" r="1.4"/><circle cx="452.21" cy="410.60" r="1.4"/><circle cx="454.07" cy="410.60" r="1.4"/><circle cx="455.93" cy="410.60" r="1.4"/><circle cx="457.79" cy="410.60" r="1.4"/><circle cx="459.64" cy="410.60" r="1.4"/><circle cx="461.50" cy="410.60" r="1.4"/><circle cx="448.00" cy="412.30" r="1.4"/><circle cx="449.75" cy="412.30" r="1.4"/><circle cx="451.50" cy="412.30" r="1.4"/><circle cx="453.25" cy="412.30" r="1.4"/><circle cx="455.00" cy="412.30" r="1.4"/><circle cx="456.75" cy="412.30" r="1.4"/><circle cx="458.50" cy="412.30" r="1.4"/><circle cx="460.25" cy="412.30" r="1.4"/><circle cx="462.00" cy="412.30" r="1.4"/></g>
<g fill="#ff007f"><circle cx="478.70" cy="383.92" r="1.4"/><circle cx="476.90" cy="398.11" r="1.4"/><circle cx="480.50" cy="398.11" r="1.4"/><circle cx="475.00" cy="405.20" r="1.4"/><circle cx="478.70" cy="405.20" r="1.4"/><circle cx="482.40" cy="405.20" r="1.4"/><circle cx="472.20" cy="412.30" r="1.4"/><circle cx="473.64" cy="412.30" r="1.4"/><circle cx="475.09" cy="412.30" r="1.4"/><circle cx="476.53" cy="412.30" r="1.4"/><circle cx="477.98" cy="412.30" r="1.4"/><circle cx="479.42" cy="412.30" r="1.4"/><circle cx="480.87" cy="412.30" r="1.4"/><circle cx="482.31" cy="412.30" r="1.4"/><circle cx="483.76" cy="412.30" r="1.4"/><circle cx="485.20" cy="412.30" r="1.4"/><circle cx="472.30" cy="410.88" r="1.4"/><circle cx="485.10" cy="410.88" r="1.4"/></g>
<g fill="#ff007f"><circle cx="498.80" cy="355.54" r="1.4"/><circle cx="502.50" cy="355.54" r="1.4"/><circle cx="506.20" cy="355.54" r="1.4"/><circle cx="498.80" cy="383.92" r="1.4"/><circle cx="502.50" cy="383.92" r="1.4"/><circle cx="506.20" cy="383.92" r="1.4"/><circle cx="500.70" cy="398.11" r="1.4"/><circle cx="504.30" cy="398.11" r="1.4"/><circle cx="498.80" cy="405.20" r="1.4"/><circle cx="502.50" cy="405.20" r="1.4"/><circle cx="506.20" cy="405.20" r="1.4"/><circle cx="495.75" cy="412.30" r="1.4"/><circle cx="497.25" cy="412.30" r="1.4"/><circle cx="498.75" cy="412.30" r="1.4"/><circle cx="500.25" cy="412.30" r="1.4"/><circle cx="501.75" cy="412.30" r="1.4"/><circle cx="503.25" cy="412.30" r="1.4"/><circle cx="504.75" cy="412.30" r="1.4"/><circle cx="506.25" cy="412.30" r="1.4"/><circle cx="507.75" cy="412.30" r="1.4"/><circle cx="509.25" cy="412.30" r="1.4"/><circle cx="498.50" cy="410.88" r="1.4"/><circle cx="500.10" cy="410.88" r="1.4"/><circle cx="501.70" cy="410.88" r="1.4"/><circle cx="503.30" cy="410.88" r="1.4"/><circle cx="504.90" cy="410.88" r="1.4"/><circle cx="506.50" cy="410.88" r="1.4"/></g>
<path d="M382.4 405.6L385.2 404.3" stroke="#000" stroke-width="1.1" fill="none"/>
<path d="M335.0 294.0H359.0" stroke="#666" stroke-width="1.4"/>
<text x="345.9" y="289.6" font-size="10.3" text-anchor="middle" stroke="#000" stroke-width="0.22">ns</text>
<path d="M384.1 304.5H408.4" stroke="#555" stroke-width="1.0"/>
<text x="395.9" y="301.0" font-size="10.3" text-anchor="middle" stroke="#000" stroke-width="0.22">ns</text>
<path d="M428.4 346.5H452.6" stroke="#555" stroke-width="1.2"/>
<text x="440.3" y="343.1" font-size="8.9" font-weight="bold" stroke="#000" stroke-width="0.18" letter-spacing="0.45" text-anchor="middle">****</text>
<path d="M479.6 311.0H503.3" stroke="#8a8a8a" stroke-width="1.5"/>
<text x="491.9" y="307.2" font-size="10.3" text-anchor="middle" stroke="#000" stroke-width="0.22">ns</text>
<text x="344.2" y="441" font-size="12" font-weight="bold" fill="#0a0aff" stroke="#0a0aff" stroke-width="0.16">IDO-1</text>
<text x="390.1" y="441" font-size="12" font-weight="bold" fill="#ffff00" stroke="#ffff00" stroke-width="0.16">TIM-3</text>
<text x="434.7" y="441" font-size="12" font-weight="bold" fill="#12ab50" stroke="#12ab50" stroke-width="0.16">LAG-3</text>
<text x="485.0" y="441" font-size="12" font-weight="bold" fill="#ff0a6c" stroke="#ff0a6c" stroke-width="0.16">PD-L1</text>
</svg>
</body></html>
